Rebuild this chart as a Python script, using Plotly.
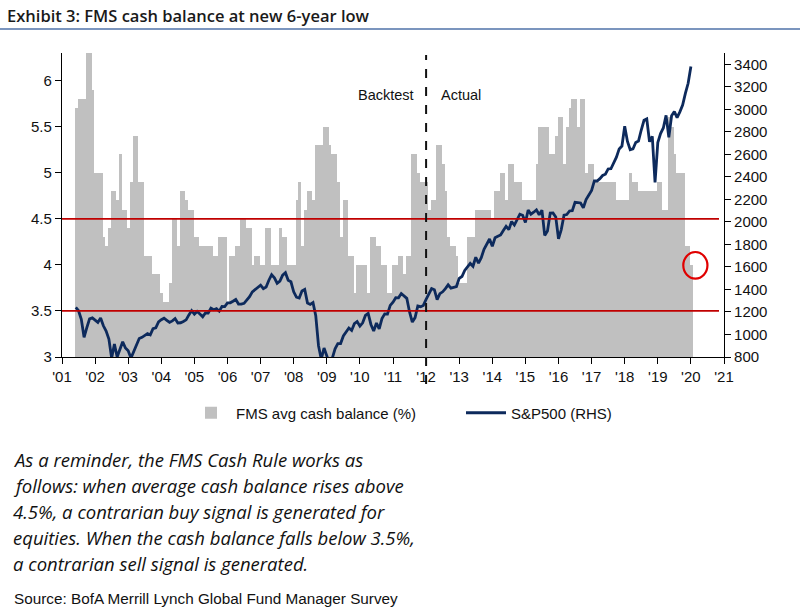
import plotly.graph_objects as go

# ---------------- data ----------------
start_year, start_month = 2001, 6
# FMS average cash balance (%), monthly, Jun-2001 .. Jan-2020 (as placed on chart)
cash_balance = [
    5.7, 5.8, 5.8, 5.8, 6.4, 6.4, 5.9,                                # 2001 (Jun-Dec)
    5.0, 5.0, 5.0, 4.3, 4.2, 4.4, 4.8, 4.8, 4.7, 5.2, 4.6, 4.6,       # 2002
    4.4, 4.9, 5.4, 5.4, 4.9, 4.9, 4.1, 4.1, 4.1, 3.9, 3.9, 3.9,       # 2003
    3.7, 3.6, 3.6, 3.8, 4.5, 4.5, 4.2, 4.8, 4.8, 4.7, 4.6, 4.6,       # 2004
    4.3, 4.3, 4.2, 4.2, 4.2, 4.2, 4.2, 4.1, 4.1, 4.3, 4.3, 4.3,       # 2005
    3.6, 4.1, 4.1, 4.2, 4.2, 4.5, 4.5, 4.4, 4.4, 4.0, 4.1, 4.1,       # 2006
    4.0, 4.0, 4.4, 4.4, 4.0, 4.0, 4.0, 4.4, 4.3, 4.3, 4.0, 4.0,       # 2007
    4.0, 4.7, 4.9, 4.2, 4.6, 4.8, 4.8, 4.7, 5.3, 5.3, 5.3, 5.5,       # 2008
    5.5, 5.3, 5.2, 5.2, 4.9, 4.3, 4.7, 4.7, 4.1, 4.1, 3.7, 4.0,       # 2009
    4.0, 4.0, 4.0, 3.7, 4.3, 4.3, 4.2, 4.2, 4.0, 4.0, 3.7, 3.7,       # 2010
    4.0, 4.0, 4.1, 4.1, 3.9, 4.1, 4.1, 5.2, 5.2, 5.0, 4.9, 4.9,       # 2011
    4.9, 4.6, 4.7, 4.7, 5.3, 5.3, 5.1, 4.8, 4.3, 4.2, 4.2, 4.1,       # 2012
    3.8, 3.8, 3.8, 4.3, 4.3, 4.3, 4.6, 4.6, 4.6, 4.6, 4.6, 4.6,       # 2013
    4.5, 4.8, 4.8, 5.0, 5.0, 4.7, 5.1, 5.1, 4.9, 4.9, 4.9, 4.7,       # 2014
    4.7, 4.7, 4.7, 4.7, 5.1, 5.5, 5.5, 5.5, 5.5, 5.2, 5.2, 5.4,       # 2015
    5.6, 5.6, 5.1, 5.5, 5.7, 5.8, 5.8, 5.5, 5.8, 5.8, 5.0, 5.1,       # 2016
    5.1, 4.9, 4.9, 4.9, 4.9, 4.9, 4.9, 4.9, 4.9, 4.7, 4.7, 4.7,       # 2017
    4.7, 4.7, 5.0, 4.9, 4.9, 4.8, 4.8, 4.8, 4.8, 4.8, 4.8, 4.8,       # 2018
    4.9, 4.9, 4.6, 4.6, 5.6, 5.5, 5.2, 5.0, 5.0, 5.0, 4.2, 4.2,       # 2019
    4.0,                                                              # 2020
]
# S&P 500 level (RHS), monthly, Jun-2001 .. Jan-2020 (as placed on chart)
sp500 = [
    1240, 1211, 1134, 975, 1060, 1139, 1148,                                 # 2001
    1130, 1107, 1147, 1077, 1030, 960, 790, 916, 800, 860, 936, 880,         # 2002
    856, 790, 848, 917, 964, 975, 990, 1008, 996, 1051, 1058, 1112,          # 2003
    1131, 1145, 1126, 1107, 1121, 1141, 1102, 1104, 1115, 1130, 1174, 1212,  # 2004
    1181, 1204, 1181, 1157, 1192, 1191, 1234, 1220, 1229, 1207, 1249, 1248,  # 2005
    1280, 1281, 1295, 1311, 1270, 1270, 1277, 1304, 1336, 1378, 1401, 1418,  # 2006
    1438, 1407, 1421, 1482, 1531, 1503, 1455, 1474, 1527, 1549, 1481, 1468,  # 2007
    1379, 1331, 1323, 1386, 1400, 1280, 1267, 1283, 1166, 900, 780, 880,     # 2008
    820, 740, 790, 873, 919, 919, 987, 1021, 1057, 1036, 1096, 1115,         # 2009
    1074, 1104, 1169, 1187, 1089, 1031, 1102, 1049, 1141, 1183, 1181, 1258,  # 2010
    1286, 1327, 1326, 1364, 1345, 1321, 1200, 1110, 1150, 1253, 1247, 1258,  # 2011
    1312, 1366, 1408, 1398, 1310, 1362, 1379, 1407, 1441, 1412, 1416, 1426,  # 2012
    1498, 1515, 1569, 1598, 1631, 1606, 1686, 1633, 1682, 1757, 1806, 1848,  # 2013
    1783, 1859, 1872, 1884, 1924, 1960, 1931, 2003, 1972, 2018, 2068, 2059,  # 2014
    1995, 2105, 2068, 2086, 2107, 2063, 2104, 1880, 1920, 2079, 2080, 2044,  # 2015
    1850, 1932, 2060, 2065, 2097, 2099, 2174, 2171, 2168, 2126, 2199, 2239,  # 2016
    2279, 2364, 2363, 2384, 2412, 2423, 2470, 2472, 2519, 2575, 2648, 2674,  # 2017
    2850, 2714, 2641, 2648, 2705, 2718, 2816, 2902, 2914, 2712, 2760, 2350,  # 2018
    2704, 2784, 2834, 2946, 2752, 2942, 2980, 2926, 2977, 3038, 3141, 3231,  # 2019
    3380,                                                                    # 2020
]
year_ticks = list(range(2001, 2022))
year_labels = ["'%02d" % (y % 100) for y in year_ticks]
left_ticks = [3, 3.5, 4, 4.5, 5, 5.5, 6]
left_labels = ["3", "3.5", "4", "4.5", "5", "5.5", "6"]
right_ticks = list(range(800, 3401, 200))
buy_level, sell_level = 4.5, 3.5
split_year = 2012
note_lines = [
    "As a reminder, the FMS Cash Rule works as",
    "follows: when average cash balance rises above",
    "4.5%, a contrarian buy signal is generated for",
    "equities. When the cash balance falls below 3.5%,",
    "a contrarian sell signal is generated.",
]

# ---------------- positions ----------------
def month_pos(i, offset):
    m = start_month - 1 + i
    return start_year + (m + offset) / 12.0

bar_x = [month_pos(i, 0.2) for i in range(len(cash_balance))]
line_x = [month_pos(i, 0.0) for i in range(len(sp500))]

# plot area in pixels
L, R, T, B = 62, 724, 53, 357
W, H = 800, 615
def px(x):
    return (x - L) / (R - L)
def py(y):
    return (B - y) / (B - T)

fig = go.Figure()
fig.add_trace(go.Bar(
    x=bar_x, y=cash_balance, width=1 / 12.0,
    marker=dict(color="#C0C0C0", line=dict(width=0)),
    name="FMS avg cash balance (%)", yaxis="y",
))
fig.add_trace(go.Scatter(
    x=line_x, y=sp500, mode="lines",
    line=dict(color="#0D2A5C", width=2.8),
    name="S&P500 (RHS)", yaxis="y2",
))

shapes = []
for lvl in (buy_level, sell_level):
    shapes.append(dict(type="line", xref="paper", yref="y", x0=0, x1=px(719),
                       y0=lvl, y1=lvl, line=dict(color="#C00000", width=1.8)))
shapes.append(dict(type="line", xref="x", yref="paper", x0=split_year, x1=split_year,
                   y0=py(384), y1=py(55), line=dict(color="#111111", width=2, dash="dash")))
# highlight circle around the latest reading
shapes.append(dict(type="circle", xref="x", yref="y",
                   x0=2019.77, x1=2020.5, y0=3.85, y1=4.14,
                   line=dict(color="#E00000", width=2.2)))
# title underline
shapes.append(dict(type="line", xref="paper", yref="paper", x0=px(0), x1=px(800),
                   y0=py(29), y1=py(29), line=dict(color="#4F72A8", width=1.5)))

annotations = [
    dict(text="Exhibit 3: FMS cash balance at new 6-year low", xref="paper", yref="paper",
         x=px(5), y=py(15), xanchor="left", yanchor="middle", showarrow=False,
         font=dict(family="Open Sans", size=16.5, color="#1a1a1a", weight=600)),
    dict(text="Backtest", xref="paper", yref="paper", x=px(386), y=py(95),
         xanchor="center", yanchor="middle", showarrow=False,
         font=dict(family="Arial", size=14.5, color="#111")),
    dict(text="Actual", xref="paper", yref="paper", x=px(461), y=py(95),
         xanchor="center", yanchor="middle", showarrow=False,
         font=dict(family="Arial", size=14.5, color="#111")),
    dict(text="Source: BofA Merrill Lynch Global Fund Manager Survey", xref="paper", yref="paper",
         x=px(12), y=py(598), xanchor="left", yanchor="middle", showarrow=False,
         font=dict(family="Arial", size=15.3, color="#111")),
]
for j, line in enumerate(note_lines):
    annotations.append(dict(text="<i>%s</i>" % line, xref="paper", yref="paper",
                            x=px(11), y=py(459 + 26 * j), xanchor="left", yanchor="middle",
                            showarrow=False,
                            font=dict(family="Open Sans", size=18.5, color="#111")))

axis_font = dict(family="Arial", size=15, color="#111")
fig.update_layout(
    width=W, height=H,
    margin=dict(l=L, r=W - R, t=T, b=H - B, pad=0),
    paper_bgcolor="white", plot_bgcolor="white",
    bargap=0, showlegend=True,
    legend=dict(orientation="h", x=px(186), xanchor="left", y=py(413), yanchor="middle",
                font=dict(family="Arial", size=15, color="#111"),
                itemwidth=40, entrywidth=220, entrywidthmode="pixels",
                tracegroupgap=0, bgcolor="rgba(0,0,0,0)"),
    xaxis=dict(range=[2001, 2021], tickvals=year_ticks, ticktext=year_labels,
               ticks="outside", ticklen=6, tickcolor="#000", showline=True,
               linecolor="#000", linewidth=1.2, showgrid=False, zeroline=False,
               tickfont=axis_font),
    yaxis=dict(range=[3, 6.3], tickvals=left_ticks, ticktext=left_labels,
               ticks="outside", ticklen=6, tickcolor="#000", showline=True,
               linecolor="#000", linewidth=1.2, showgrid=False, zeroline=False,
               tickfont=axis_font),
    yaxis2=dict(range=[800, 3500], tickvals=right_ticks, overlaying="y", side="right",
                ticks="outside", ticklen=6, tickcolor="#000", showline=True,
                linecolor="#000", linewidth=1.2, showgrid=False, zeroline=False,
                tickfont=axis_font),
    shapes=shapes, annotations=annotations,
)

fig.write_html("out.html", post_script="document.body.style.margin='0';",
               config={"displayModeBar": False})
